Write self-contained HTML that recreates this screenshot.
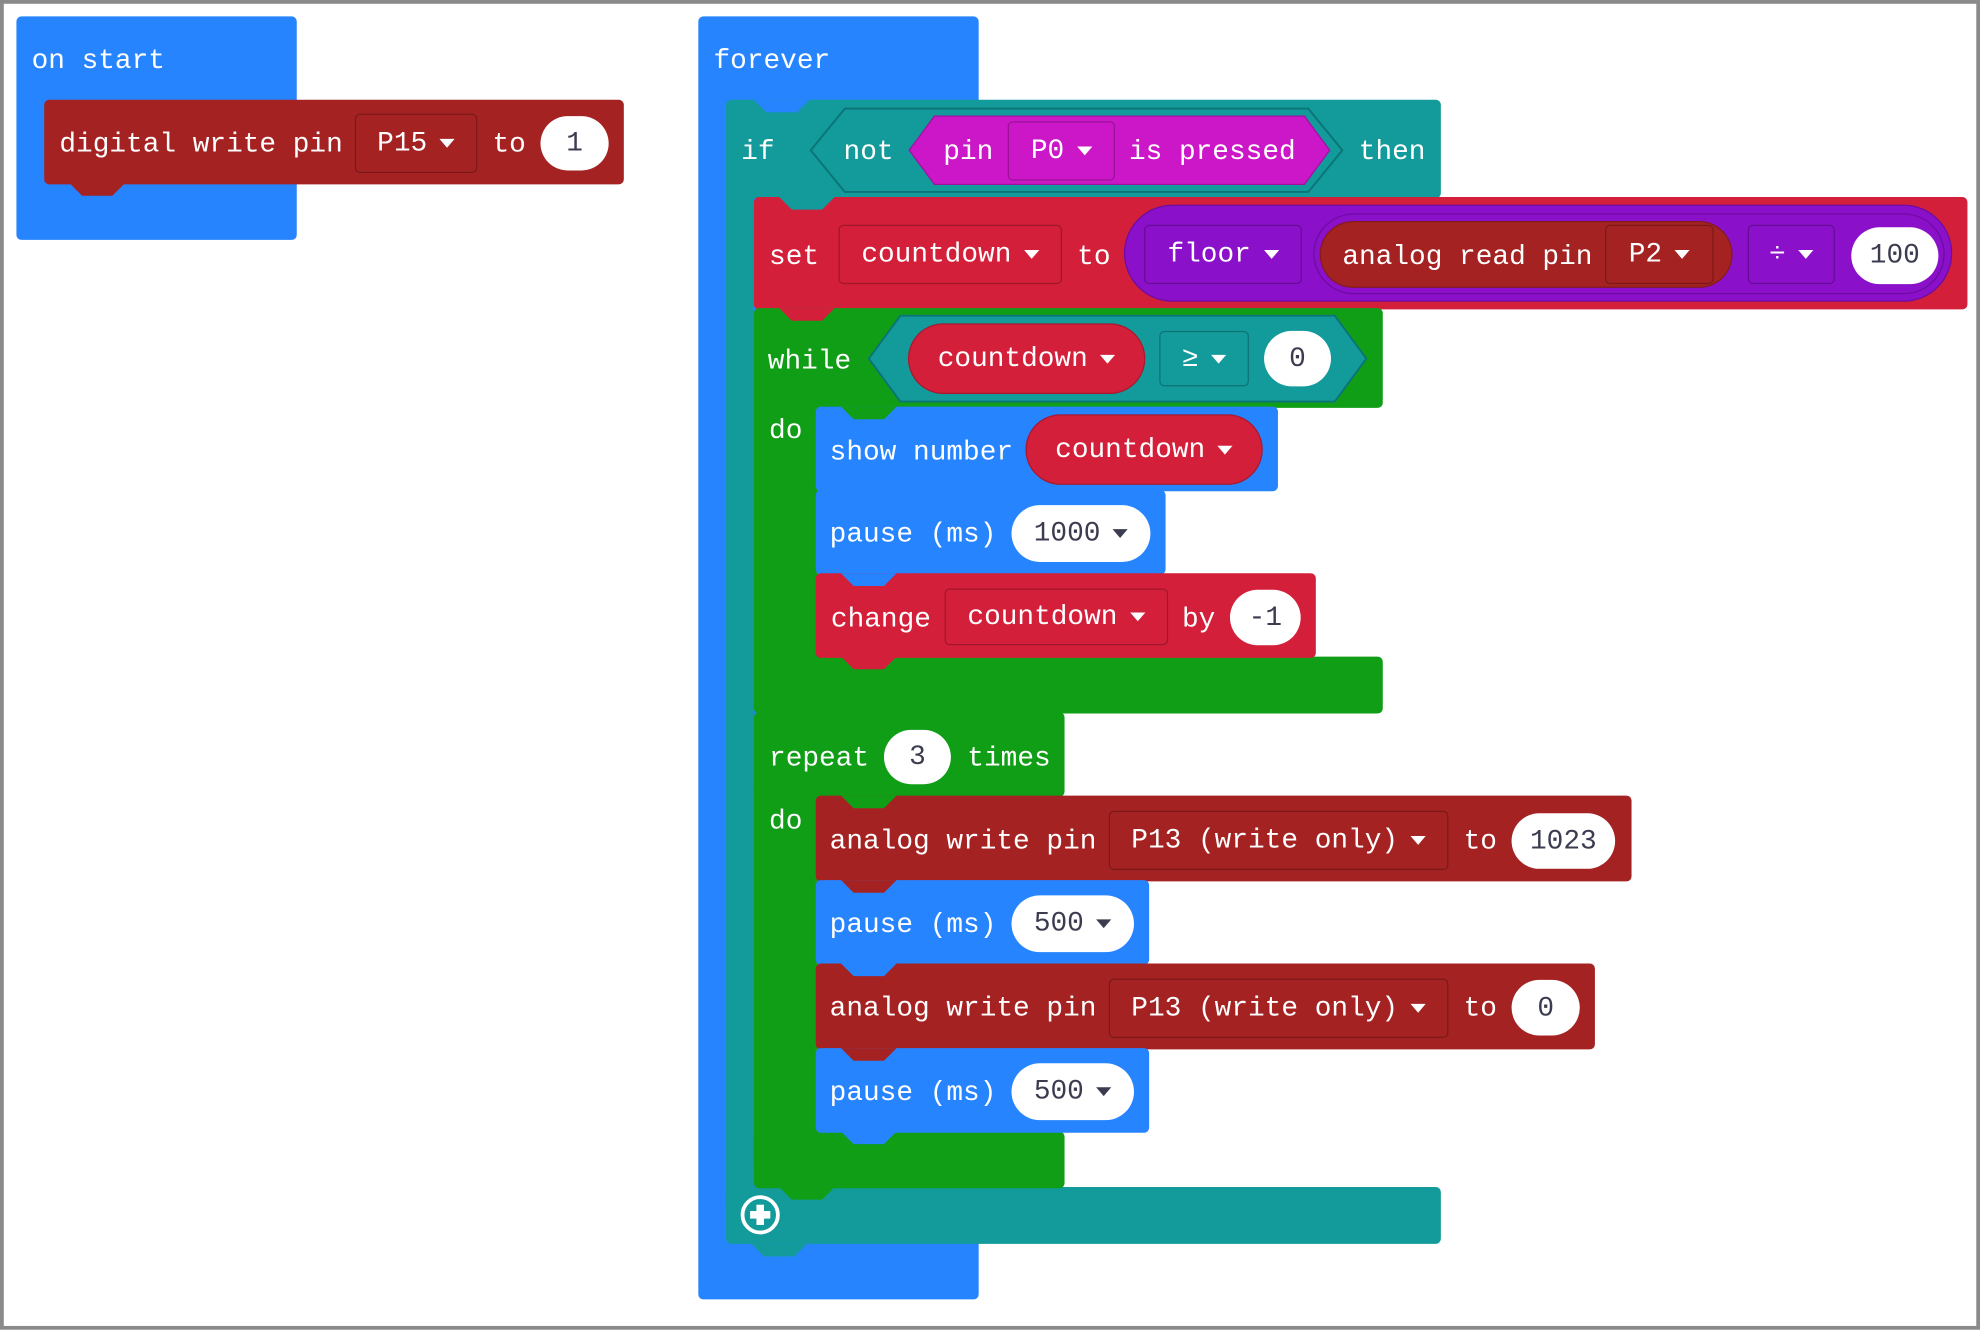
<!DOCTYPE html>
<html><head><meta charset="utf-8"><style>
html,body{margin:0;padding:0;background:#fff;overflow:hidden}
#wrap{position:absolute;left:0;top:0;width:1568px;height:1053px;transform:scale(1.2628);transform-origin:0 0;background:#fff;box-sizing:border-box;border:3px solid #8a8a8a}
#wrap div{position:absolute;box-sizing:border-box}
.b{border-radius:4px}
.t{color:#fff;font-family:"Liberation Mono",monospace;font-size:22px;line-height:28px;white-space:pre;height:28px;transform:translateY(2px)}
.dd{border-radius:4px;border:1px solid rgba(0,0,0,.25);display:flex;align-items:center;justify-content:center;color:#fff;font-family:"Liberation Mono",monospace;font-size:22px;white-space:pre}
.ov{background:#fff;border-radius:24px;display:flex;align-items:center;justify-content:center;color:#3c3c50;font-family:"Liberation Mono",monospace;font-size:22px;white-space:pre}
.pill{border-radius:30px;border:1px solid rgba(0,0,0,.2);display:flex;align-items:center;justify-content:center;color:#fff;font-family:"Liberation Mono",monospace;font-size:22px;white-space:pre}
.tri{display:inline-block;width:0;height:0;border-left:6px solid transparent;border-right:6px solid transparent;border-top:7px solid #fff;margin-left:10px;vertical-align:middle}
.ov .tri{border-top-color:#3c3c50}
svg{position:absolute;left:0;top:0}
</style></head><body><div id="wrap">

<!-- on start -->
<div class="b" style="left:10px;top:10px;width:222px;height:177px;background:#2684ff"></div>
<div class="t" style="left:22px;top:30px">on start</div>
<div class="b" style="left:32px;top:76px;width:459px;height:67px;background:#a52222"></div>
<div class="t" style="left:44px;top:96px">digital write pin</div>
<div class="dd" style="left:278px;top:87px;width:97px;height:47px">P15<span class="tri"></span></div>
<div class="t" style="left:387px;top:96px">to</div>
<div class="ov" style="left:425px;top:89px;width:54px;height:43px">1</div>

<!-- forever -->
<div class="b" style="left:550px;top:10px;width:222px;height:1016px;background:#2684ff"></div>
<div class="t" style="left:562px;top:30px">forever</div>

<!-- if -->
<div class="b" style="left:572px;top:76px;width:566px;height:78px;background:#139a9b"></div>
<div style="left:572px;top:150px;width:22px;height:800px;background:#139a9b"></div>
<div class="b" style="left:572px;top:937px;width:566px;height:45px;background:#139a9b"></div>
<div class="t" style="left:584px;top:102px">if</div>
<svg width="1568" height="1053" style="position:absolute;left:-3px;top:-3px">
<polygon points="642,119 669,86 1036,86 1063,119 1036,152 669,152" fill="#139a9b" stroke="#0c7476" stroke-width="1.5"/>
<polygon points="720,119 740,92 1033,92 1053,119 1033,146 740,146" fill="#cc17c9" stroke="#a010a0" stroke-width="1"/>
</svg>
<div class="t" style="left:665px;top:102px">not</div>
<div class="t" style="left:744px;top:102px">pin</div>
<div class="dd" style="left:795px;top:93px;width:85px;height:47px">P0<span class="tri"></span></div>
<div class="t" style="left:891px;top:102px">is pressed</div>
<div class="t" style="left:1073px;top:102px">then</div>

<!-- set -->
<div class="b" style="left:594px;top:153px;width:961px;height:89px;background:#d41f3a"></div>
<div class="t" style="left:606px;top:185px">set</div>
<div class="dd" style="left:661px;top:175px;width:177px;height:47px">countdown<span class="tri"></span></div>
<div class="t" style="left:850px;top:185px">to</div>
<div class="pill" style="left:887px;top:159px;width:656px;height:77px;background:#8a10c9;border-radius:40px"></div>
<div class="dd" style="left:903px;top:175px;width:125px;height:47px">floor<span class="tri"></span></div>
<div class="pill" style="left:1037px;top:166px;width:500px;height:64px;background:#8a10c9;border-radius:34px"></div>
<div class="pill" style="left:1042px;top:172px;width:327px;height:53px;background:#a52222"></div>
<div class="t" style="left:1060px;top:185px">analog read pin</div>
<div class="dd" style="left:1268px;top:175px;width:86px;height:47px">P2<span class="tri"></span></div>
<div class="dd" style="left:1381px;top:175px;width:69px;height:47px">÷<span class="tri"></span></div>
<div class="ov" style="left:1463px;top:177px;width:69px;height:45px">100</div>

<!-- while -->
<div class="b" style="left:594px;top:241px;width:498px;height:79px;background:#109e16"></div>
<div style="left:594px;top:315px;width:50px;height:210px;background:#109e16"></div>
<div class="b" style="left:594px;top:517px;width:498px;height:45px;background:#109e16"></div>
<div class="t" style="left:605px;top:268px">while</div>
<svg width="1568" height="1053" style="position:absolute;left:-3px;top:-3px">
<polygon points="688,284 713,250 1057,250 1082,284 1057,318 713,318" fill="#139a9b" stroke="#0c7476" stroke-width="1.5"/>
</svg>
<div class="pill" style="left:716px;top:253px;width:188px;height:56px;background:#d41f3a">countdown<span class="tri"></span></div>
<div class="dd" style="left:915px;top:259px;width:71px;height:44px">≥<span class="tri"></span></div>
<div class="ov" style="left:998px;top:259px;width:53px;height:44px">0</div>
<div class="t" style="left:606px;top:323px">do</div>

<div class="b" style="left:643px;top:319px;width:366px;height:67px;background:#2684ff"></div>
<div class="t" style="left:654px;top:340px">show number</div>
<div class="pill" style="left:809px;top:325px;width:188px;height:56px;background:#d41f3a">countdown<span class="tri"></span></div>

<div class="b" style="left:643px;top:385px;width:277px;height:67px;background:#2684ff"></div>
<div class="t" style="left:654px;top:405px">pause (ms)</div>
<div class="ov" style="left:798px;top:397px;width:110px;height:45px">1000<span class="tri"></span></div>

<div class="b" style="left:643px;top:451px;width:396px;height:67px;background:#d41f3a"></div>
<div class="t" style="left:655px;top:472px">change</div>
<div class="dd" style="left:745px;top:463px;width:177px;height:45px">countdown<span class="tri"></span></div>
<div class="t" style="left:933px;top:472px">by</div>
<div class="ov" style="left:971px;top:464px;width:56px;height:44px">-1</div>

<!-- repeat -->
<div class="b" style="left:594px;top:561px;width:246px;height:67px;background:#109e16"></div>
<div style="left:594px;top:620px;width:50px;height:300px;background:#109e16"></div>
<div class="b" style="left:594px;top:893px;width:246px;height:45px;background:#109e16"></div>
<div class="t" style="left:606px;top:582px">repeat</div>
<div class="ov" style="left:697px;top:575px;width:53px;height:43px">3</div>
<div class="t" style="left:763px;top:582px">times</div>
<div class="t" style="left:606px;top:632px">do</div>

<div class="b" style="left:643px;top:627px;width:646px;height:68px;background:#a52222"></div>
<div class="t" style="left:654px;top:648px">analog write pin</div>
<div class="dd" style="left:875px;top:639px;width:269px;height:47px">P13 (write only)<span class="tri"></span></div>
<div class="t" style="left:1156px;top:648px">to</div>
<div class="ov" style="left:1194px;top:641px;width:82px;height:44px">1023</div>

<div class="b" style="left:643px;top:694px;width:264px;height:67px;background:#2684ff"></div>
<div class="t" style="left:654px;top:714px">pause (ms)</div>
<div class="ov" style="left:798px;top:706px;width:97px;height:45px">500<span class="tri"></span></div>

<div class="b" style="left:643px;top:760px;width:617px;height:68px;background:#a52222"></div>
<div class="t" style="left:654px;top:780px">analog write pin</div>
<div class="dd" style="left:875px;top:772px;width:269px;height:47px">P13 (write only)<span class="tri"></span></div>
<div class="t" style="left:1156px;top:780px">to</div>
<div class="ov" style="left:1194px;top:773px;width:54px;height:44px">0</div>

<div class="b" style="left:643px;top:827px;width:264px;height:67px;background:#2684ff"></div>
<div class="t" style="left:654px;top:847px">pause (ms)</div>
<div class="ov" style="left:798px;top:839px;width:97px;height:45px">500<span class="tri"></span></div>

<!-- tabs -->
<svg width="1568" height="1053" style="position:absolute;left:-3px;top:-3px">
<g>
<polygon points="55,145 65,155 89,155 99,145" fill="#a52222"/>
<polygon points="595,985 605,995 629,995 639,985" fill="#139a9b"/>
<polygon points="617,940 627,950 651,950 661,940" fill="#109e16"/>
<polygon points="617,564 627,574 651,574 661,564" fill="#109e16"/>
<polygon points="617,244 627,254 651,254 661,244" fill="#d41f3a"/>
<polygon points="666,388 676,398 700,398 710,388" fill="#2684ff"/>
<polygon points="666,454 676,464 700,464 710,454" fill="#2684ff"/>
<polygon points="666,520 676,530 700,530 710,520" fill="#d41f3a"/>
<polygon points="666,697 676,707 700,707 710,697" fill="#a52222"/>
<polygon points="666,763 676,773 700,773 710,763" fill="#2684ff"/>
<polygon points="666,830 676,840 700,840 710,830" fill="#a52222"/>
<polygon points="666,896 676,906 700,906 710,896" fill="#2684ff"/>
<polygon points="617,156 627,166 651,166 661,156" fill="#139a9b"/>
<polygon points="597,79 607,89 631,89 641,79" fill="#2684ff"/>
<polygon points="666,322 676,332 700,332 710,322" fill="#109e16"/>
<polygon points="666,630 676,640 700,640 710,630" fill="#109e16"/>
</g>
<circle cx="602" cy="962" r="14" fill="none" stroke="#fff" stroke-width="3"/>
<rect x="599" y="954" width="6" height="16" fill="#fff"/>
<rect x="594" y="959" width="16" height="6" fill="#fff"/>
</svg>
</div></body></html>
